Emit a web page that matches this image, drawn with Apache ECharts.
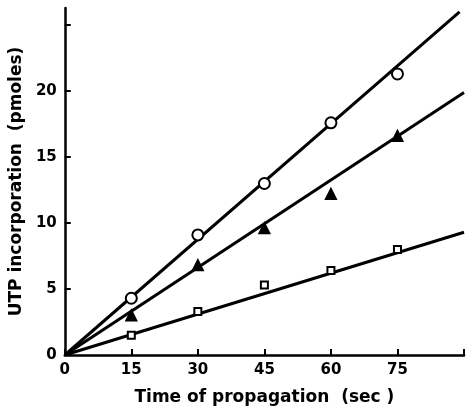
<!DOCTYPE html><html><head><meta charset="utf-8"><script src="https://cdn.jsdelivr.net/npm/echarts@6/dist/echarts.min.js"></script></head><body style="margin:0;background:#fff"><div id="c" style="width:474px;height:415px"></div><script>
const times=[15,30,45,60,75];
const circles=[4.3,9.1,13.0,17.6,21.3];
const triangles=[3.0,6.8,9.6,12.2,16.6];
const squares=[1.5,3.3,5.3,6.4,8.0];
const fitCircle=[[0,0],[89,26]];
const fitTriangle=[[0,0],[90,19.9]];
const fitSquare=[[0,0],[90,9.3]];
const pts=v=>times.map((t,i)=>[t,v[i]]);
const ff='"DejaVu Sans", sans-serif';
const line=d=>({type:'line',data:d,symbol:'none',lineStyle:{color:'#000',width:3},z:1});
const pt=(d,sym,fill,size)=>({type:'scatter',data:d,symbol:sym,symbolSize:size,itemStyle:{color:fill,borderColor:'#000',borderWidth:2,opacity:1},z:3});
const ch=echarts.init(document.getElementById('c'));
ch.setOption({animation:false,
grid:{left:62,right:10,top:8,bottom:60},
xAxis:{type:'value',min:0,max:90,interval:15,name:'Time of propagation  (sec )',nameLocation:'middle',nameGap:34,
nameTextStyle:{fontFamily:ff,fontWeight:'bold',fontSize:17,color:'#000'},
axisLine:{lineStyle:{color:'#000',width:2.5}},axisTick:{inside:true,length:6,lineStyle:{width:2}},splitLine:{show:false},
axisLabel:{fontFamily:ff,fontWeight:'bold',fontSize:15,color:'#000',formatter:v=>v>=90?'':v}},
yAxis:{type:'value',min:0,max:26.3,interval:5,name:'UTP incorporation  (pmoles)',nameLocation:'middle',nameGap:36,
nameTextStyle:{fontFamily:ff,fontWeight:'bold',fontSize:17,color:'#000'},
axisLine:{show:true,lineStyle:{color:'#000',width:2.5}},axisTick:{show:true,inside:true,length:6,lineStyle:{width:2}},splitLine:{show:false},
axisLabel:{fontFamily:ff,fontWeight:'bold',fontSize:15,color:'#000',showMaxLabel:false,formatter:v=>v>20?'':v}},
series:[line(fitCircle),line(fitTriangle),line(fitSquare),
pt(pts(circles),'circle','#fff',11),pt(pts(triangles),'triangle','#000',10),pt(pts(squares),'rect','#fff',7)]});
</script></body></html>
